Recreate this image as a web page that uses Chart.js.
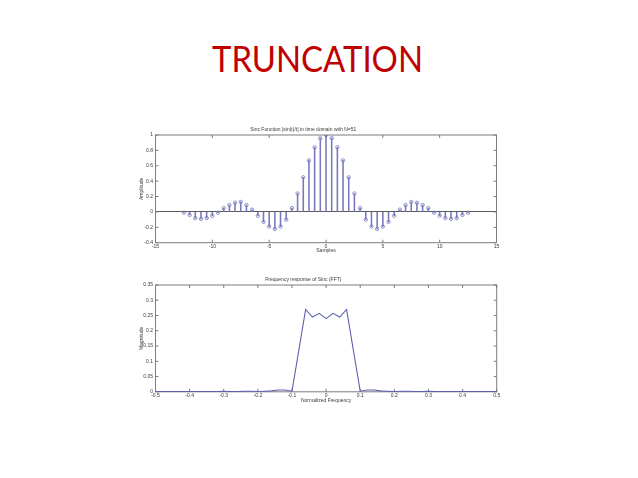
<!DOCTYPE html>
<html>
<head>
<meta charset="utf-8">
<script src="https://cdn.jsdelivr.net/npm/chart.js@4.4.1/dist/chart.umd.min.js"></script>
<style>
  html, body { margin: 0; padding: 0; background: #fff; }
  body { width: 638px; height: 478px; position: relative; overflow: hidden; }
  #title { position: absolute; left: 0; width: 635px; top: 40px; text-align: center;
           font-family: Lato, 'Open Sans', sans-serif; font-size: 36px; line-height: 36px;
           color: #c00000; transform: scaleX(0.913); transform-origin: 317.5px 0; }
  .box { position: absolute; left: 110px; width: 400px; height: 140px; }
  #b1 { top: 118px; }
  #b2 { top: 268px; }
</style>
</head>
<body>
<div id="title">TRUNCATION</div>
<div class="box" id="b1"><canvas id="c1"></canvas></div>
<div class="box" id="b2"><canvas id="c2"></canvas></div>
<script>
// ---- Top chart: sinc stem plot ----
const samples = [-12.5,-12,-11.5,-11,-10.5,-10,-9.5,-9,-8.5,-8,-7.5,-7,-6.5,-6,-5.5,-5,-4.5,-4,-3.5,-3,-2.5,-2,-1.5,-1,-0.5,
                 0,0.5,1,1.5,2,2.5,3,3.5,4,4.5,5,5.5,6,6.5,7,7.5,8,8.5,9,9.5,10,10.5,11,11.5,12,12.5];
const amplitude = [-0.01,-0.04,-0.08,-0.09,-0.08,-0.05,-0.01,0.05,0.09,0.12,0.13,0.09,0.03,-0.05,-0.13,-0.19,-0.22,-0.19,-0.10,0.05,0.24,0.45,0.67,0.84,0.96,
                   1.00,0.96,0.84,0.67,0.45,0.24,0.05,-0.10,-0.19,-0.22,-0.19,-0.13,-0.05,0.03,0.09,0.13,0.12,0.09,0.05,-0.01,-0.05,-0.08,-0.09,-0.08,-0.04,-0.01];
const sampleTicks = [-15,-10,-5,0,5,10,15];
const amplitudeTicks = [-0.4,-0.2,0,0.2,0.4,0.6,0.8,1];

// ---- Bottom chart: FFT magnitude ----
const normFreq = [-0.5,-0.48,-0.46,-0.44,-0.42,-0.4,-0.38,-0.36,-0.34,-0.32,-0.3,-0.28,-0.26,-0.24,-0.22,-0.2,-0.18,-0.16,-0.14,-0.12,-0.1,-0.08,-0.06,-0.04,-0.02,
                  0,0.02,0.04,0.06,0.08,0.1,0.12,0.14,0.16,0.18,0.2,0.22,0.24,0.26,0.28,0.3,0.32,0.34,0.36,0.38,0.4,0.42,0.44,0.46,0.48,0.5];
const magnitude = [0.001,0.001,0.001,0.001,0.001,0.001,0.001,0.001,0.001,0.001,0.002,0.001,0.001,0.002,0.002,0.001,0.002,0.003,0.006,0.006,0.002,0.136,0.270,0.245,0.257,
                   0.240,0.257,0.245,0.270,0.136,0.002,0.006,0.006,0.003,0.002,0.001,0.002,0.002,0.001,0.001,0.002,0.001,0.001,0.001,0.001,0.001,0.001,0.001,0.001,0.001,0.001];
const freqTicks = [-0.5,-0.4,-0.3,-0.2,-0.1,0,0.1,0.2,0.3,0.4,0.5];
const magTicks = [0,0.05,0.1,0.15,0.2,0.25,0.3,0.35];

const FONT = 'Liberation Sans, Arial, sans-serif';
const STEM = '#7878be';
const LINE = '#6060b0';
const AXIS = '#7d7d7d';
const TXT = '#3a3a3a';

const boxTicks = {
  id: 'boxTicks',
  beforeDatasetsDraw(chart) {
    const {ctx, chartArea: a, scales: {x, y}} = chart;
    ctx.save();
    ctx.strokeStyle = AXIS;
    ctx.lineWidth = 1;
    ctx.strokeRect(a.left, a.top, a.right - a.left, a.bottom - a.top);
    const L = 3;
    ctx.beginPath();
    x.ticks.forEach((t, i) => {
      const px = x.getPixelForTick(i);
      ctx.moveTo(px, a.bottom); ctx.lineTo(px, a.bottom - L);
      ctx.moveTo(px, a.top); ctx.lineTo(px, a.top + L);
    });
    y.ticks.forEach((t, i) => {
      const py = y.getPixelForTick(i);
      ctx.moveTo(a.left, py); ctx.lineTo(a.left + L, py);
      ctx.moveTo(a.right, py); ctx.lineTo(a.right - L, py);
    });
    ctx.stroke();
    ctx.restore();
  }
};

const fmt = v => String(+(+v).toFixed(2));

function axisX(min, max, list, title, h) {
  return {
    type: 'linear', min, max, offset: false,
    afterBuildTicks: s => { s.ticks = list.map(v => ({value: v})); },
    afterFit: s => { s.height = h; },
    grid: { display: false, drawTicks: false, offset: false },
    border: { display: false },
    ticks: { font: {family: FONT, size: 5}, color: TXT, padding: 1.2, maxRotation: 0, autoSkip: false, callback: fmt },
    title: { display: true, text: title, font: {family: FONT, size: 5, lineHeight: 1.2}, color: TXT, padding: {top: 0, bottom: 4} }
  };
}
function axisY(min, max, list, title, zeroLine) {
  return {
    type: 'linear', min, max,
    afterBuildTicks: s => { s.ticks = list.map(v => ({value: v})); },
    afterFit: s => { s.width = 45.5; },
    grid: {
      display: zeroLine, drawTicks: false,
      color: c => (c.tick && c.tick.value === 0) ? '#5a5a5a' : 'rgba(0,0,0,0)', lineWidth: 1
    },
    border: { display: false },
    ticks: { font: {family: FONT, size: 5}, color: TXT, padding: 2.5, autoSkip: false, callback: fmt },
    title: { display: true, text: title, font: {family: FONT, size: 5, lineHeight: 1.2}, color: TXT, padding: {top: 28.7, bottom: 0} }
  };
}
function titleOpt(text) {
  return { display: true, text, color: TXT, font: {family: FONT, size: 5, weight: 'normal', lineHeight: 1.2}, padding: {top: 9, bottom: 2} };
}

new Chart(document.getElementById('c1'), {
  type: 'bar',
  data: {
    datasets: [
      { type: 'scatter', data: samples.map((s, i) => ({x: s, y: amplitude[i]})),
        pointStyle: 'circle', pointRadius: 1.7, pointBorderWidth: 0.8,
        pointBackgroundColor: 'rgba(0,0,0,0)', pointBorderColor: STEM, order: 0 },
      { type: 'bar', data: samples.map((s, i) => ({x: s, y: amplitude[i]})),
        backgroundColor: STEM, barThickness: 0.9, order: 1 }
    ]
  },
  options: {
    responsive: true, maintainAspectRatio: false, animation: false,
    layout: { padding: {left: 0, right: 13.5, top: 0, bottom: 0} },
    plugins: { legend: {display: false}, tooltip: {enabled: false}, title: titleOpt('Sinc Function [sin(t)/t] in time domain with N=51') },
    scales: {
      x: axisX(-15, 15, sampleTicks, 'Samples', 15.3),
      y: axisY(-0.4, 1, amplitudeTicks, 'Amplitude', true)
    }
  },
  plugins: [boxTicks]
});

new Chart(document.getElementById('c2'), {
  type: 'line',
  data: {
    datasets: [
      { data: normFreq.map((f, i) => ({x: f, y: magnitude[i]})),
        borderColor: LINE, borderWidth: 1.1, pointRadius: 0, tension: 0, fill: false, clip: 2 }
    ]
  },
  options: {
    responsive: true, maintainAspectRatio: false, animation: false,
    layout: { padding: {left: 0, right: 13.3, top: 0, bottom: 0} },
    plugins: { legend: {display: false}, tooltip: {enabled: false}, title: titleOpt('Frequency response of Sinc (FFT)') },
    scales: {
      x: axisX(-0.5, 0.5, freqTicks, 'Normalized Frequency', 16.2),
      y: axisY(0, 0.35, magTicks, 'Magnitude', false)
    }
  },
  plugins: [boxTicks]
});
</script>
</body>
</html>
